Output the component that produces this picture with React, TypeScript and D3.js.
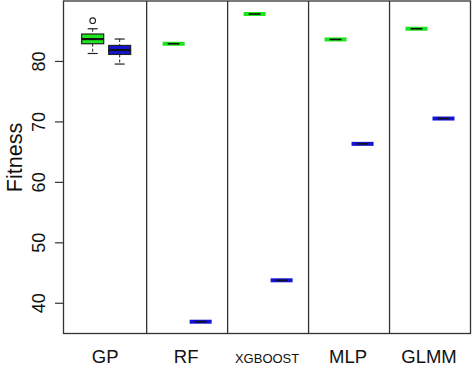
import React from "react";
import * as d3 from "d3";

const models = ["GP", "RF", "XGBOOST", "MLP", "GLMM"];
const yTicks = [40, 50, 60, 70, 80];

// green series five-number summaries
const greenLo = [81.32, 82.93, 87.85, 83.64, 85.41];
const greenQ1 = [82.93, 82.93, 87.85, 83.64, 85.41];
const greenMed = [83.7, 82.93, 87.85, 83.64, 85.41];
const greenQ3 = [84.54, 82.93, 87.85, 83.64, 85.41];
const greenHi = [85.41, 82.93, 87.85, 83.64, 85.41];
const greenOut = [[86.74], [], [], [], []];

// blue series five-number summaries
const blueLo = [79.57, 36.95, 43.8, 66.37, 70.56];
const blueQ1 = [81.16, 36.95, 43.8, 66.37, 70.56];
const blueMed = [81.89, 36.95, 43.8, 66.37, 70.56];
const blueQ3 = [82.65, 36.95, 43.8, 66.37, 70.56];
const blueHi = [83.71, 36.95, 43.8, 66.37, 70.56];
const blueOut = [[], [], [], [], []];

const W = 474;
const H = 368;
const frameLeft = 63.5;
const frameRight = 470.5;
const frameTop = 1;
const frameBottom = 333.5;

export default function App() {
  const x = d3.scaleBand<string>().domain(models).range([65.7, frameRight]);
  const y = d3.scaleLinear().domain([35, 90]).range([frameBottom, frameTop]);
  const bw = x.bandwidth();
  const boxW = 22;

  const series = [
    { color: "#1ee61e", lo: greenLo, q1: greenQ1, med: greenMed, q3: greenQ3, hi: greenHi, out: greenOut, pos: 1 / 3 },
    { color: "#1414d6", lo: blueLo, q1: blueQ1, med: blueMed, q3: blueQ3, hi: blueHi, out: blueOut, pos: 2 / 3 },
  ];

  const font = "'Liberation Sans', Arial, sans-serif";

  return (
    <svg width={W} height={H} style={{ position: "absolute", left: 0, top: 0, background: "#fff" }}>
      {/* panel dividers */}
      {models.slice(1).map((m) => (
        <line key={m} x1={x(m)!} x2={x(m)!} y1={frameTop} y2={frameBottom} stroke="#333" strokeWidth={1.3} />
      ))}
      <rect x={frameLeft} y={frameTop} width={frameRight - frameLeft} height={frameBottom - frameTop} fill="none" stroke="#333" strokeWidth={1.3} />

      {/* boxes */}
      {series.map((s, si) =>
        models.map((m, i) => {
          const cx = x(m)! + bw * s.pos;
          const yq1 = y(s.q1[i]);
          const yq3 = y(s.q3[i]);
          const ym = y(s.med[i]);
          const degenerate = Math.abs(yq1 - yq3) < 3;
          if (degenerate) {
            return (
              <g key={`${si}-${m}`}>
                <rect x={cx - boxW / 2} y={ym - 2} width={boxW} height={4} fill={s.color} />
                <line x1={cx - boxW * 0.27} x2={cx + boxW * 0.27} y1={ym} y2={ym} stroke="#111" strokeWidth={1.6} />
              </g>
            );
          }
          return (
            <g key={`${si}-${m}`}>
              <line x1={cx} x2={cx} y1={y(s.hi[i])} y2={yq3} stroke="#222" strokeWidth={1} strokeDasharray="3,2" />
              <line x1={cx} x2={cx} y1={yq1} y2={y(s.lo[i])} stroke="#222" strokeWidth={1} strokeDasharray="3,2" />
              <line x1={cx - 5} x2={cx + 5} y1={y(s.hi[i])} y2={y(s.hi[i])} stroke="#222" strokeWidth={1.2} />
              <line x1={cx - 5} x2={cx + 5} y1={y(s.lo[i])} y2={y(s.lo[i])} stroke="#222" strokeWidth={1.2} />
              <rect x={cx - boxW / 2} y={yq3} width={boxW} height={yq1 - yq3} fill={s.color} stroke="#222" strokeWidth={1.2} />
              <line x1={cx - boxW / 2} x2={cx + boxW / 2} y1={ym} y2={ym} stroke="#111" strokeWidth={2.2} />
              {s.out[i].map((o, k) => (
                <circle key={k} cx={cx} cy={y(o)} r={2.8} fill="#fff" stroke="#222" strokeWidth={1.1} />
              ))}
            </g>
          );
        })
      )}

      {/* y axis ticks */}
      {yTicks.map((t) => (
        <g key={t}>
          <line x1={55} x2={frameLeft} y1={y(t)} y2={y(t)} stroke="#333" strokeWidth={1.2} />
          <text
            transform={`translate(45,${y(t)}) rotate(-90)`}
            textAnchor="middle"
            fontFamily={font}
            fontSize={18}
            fill="#111"
          >
            {t}
          </text>
        </g>
      ))}
      <text transform="translate(21.5,157.5) rotate(-90)" textAnchor="middle" fontFamily={font} fontSize={21.5} fill="#111">
        Fitness
      </text>

      {/* category labels */}
      {models.map((m) => (
        <text
          key={m}
          x={x(m)! + bw / 2 - 1}
          y={362.5}
          textAnchor="middle"
          fontFamily={font}
          fontSize={m === "XGBOOST" ? 13 : 18.5}
          fill="#111"
        >
          {m}
        </text>
      ))}
    </svg>
  );
}
